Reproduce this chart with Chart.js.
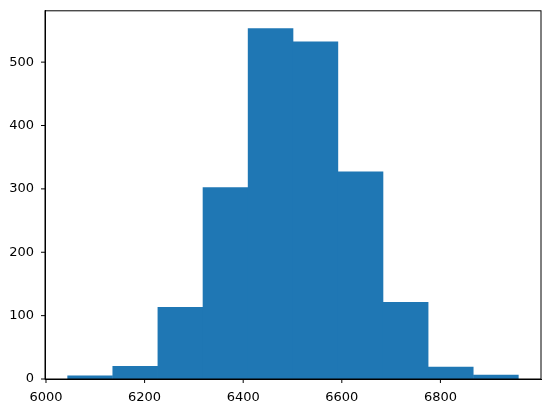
<!DOCTYPE html>
<html>
<head>
<script src="https://cdn.jsdelivr.net/npm/chart.js@4"></script>
<style>
    body { margin: 0; background: #fff; }
    #wrap { width: 552px; height: 413px; }
</style>
</head>
<body>
<div id="wrap"><canvas id="hist"></canvas></div>
<script>
// bin edges and counts
const binEdges = [6044, 6135, 6227, 6318, 6410, 6501, 6592, 6684, 6775, 6867, 6958];
const counts = [5, 20, 113, 302, 553, 532, 327, 121, 19, 6];
const xTicks = [6000, 6200, 6400, 6600, 6800];
const yTicks = [0, 100, 200, 300, 400, 500];

const points = counts.map((c, i) => ({ x: (binEdges[i] + binEdges[i + 1]) / 2, y: c }));

const font = { family: 'DejaVu Sans', size: 13 };

new Chart(document.getElementById('hist'), {
    type: 'bar',
    data: {
        datasets: [{
            data: points,
            backgroundColor: '#1f77b4',
            barPercentage: 1,
            categoryPercentage: 1,
            borderWidth: 0
        }]
    },
    options: {
        responsive: true,
        maintainAspectRatio: false,
        animation: false,
        layout: { padding: { top: 10, right: 11, left: 0, bottom: 0 } },
        plugins: { legend: { display: false }, tooltip: { enabled: false } },
        scales: {
            x: {
                type: 'linear',
                offset: false,
                min: 5998,
                max: 7004,
                afterBuildTicks: s => { s.ticks = xTicks.map(v => ({ value: v })); },
                afterFit: s => { s.height = 34; },
                grid: { display: false },
                border: { color: '#000' },
                ticks: { color: '#000', font: font, maxRotation: 0, callback: v => String(v) }
            },
            y: {
                min: 0,
                max: 581,
                afterBuildTicks: s => { s.ticks = yTicks.map(v => ({ value: v })); },
                afterFit: s => { s.width = 45; },
                grid: { display: false },
                border: { color: '#000' },
                ticks: { color: '#000', font: font, callback: v => String(v) }
            }
        }
    },
    plugins: [{
        id: 'frame',
        afterDraw(chart) {
            const { ctx, chartArea: a } = chart;
            ctx.save();
            ctx.strokeStyle = '#000';
            ctx.lineWidth = 1;
            ctx.strokeRect(a.left, a.top, a.right - a.left, a.bottom - a.top);
            // tick marks outward like matplotlib
            ctx.beginPath();
            xTicks.forEach(v => {
                const px = chart.scales.x.getPixelForValue(v);
                ctx.moveTo(px, a.bottom); ctx.lineTo(px, a.bottom + 4);
            });
            yTicks.forEach(v => {
                const py = chart.scales.y.getPixelForValue(v);
                ctx.moveTo(a.left, py); ctx.lineTo(a.left - 4, py);
            });
            ctx.stroke();
            ctx.restore();
        }
    }]
});
</script>
</body>
</html>
